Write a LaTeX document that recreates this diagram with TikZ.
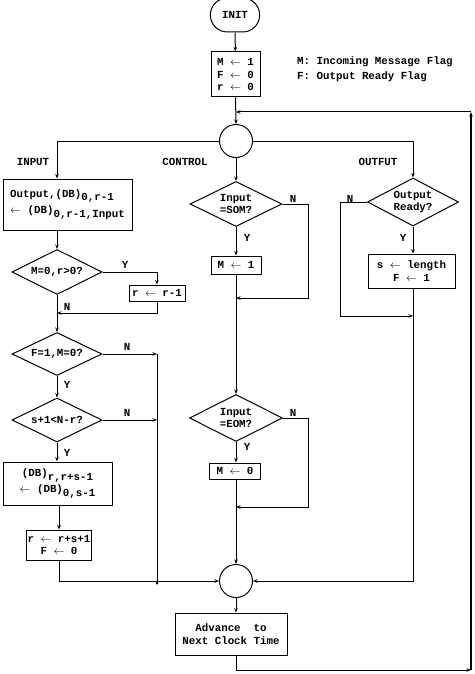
\documentclass[tikz,border=0pt]{standalone}
\usepackage{fontspec}
\setmainfont{Liberation Mono}
\usetikzlibrary{shapes.geometric,shapes.misc,arrows.meta}
\newcommand{\lo}[1]{\raisebox{-3.5pt}{#1}}
\newcommand{\la}{$\leftarrow$}
\begin{document}
\begin{tikzpicture}[x=1pt,y=-1pt,
  every node/.style={font=\fontsize{10.8}{12.5}\selectfont\bfseries},
  ln/.style={line width=1pt},
  arr/.style={ln,-{Stealth[length=4.5pt,width=3.5pt]}},
  box/.style={draw,line width=1pt,inner sep=1pt},
  dia/.style={draw,diamond,line width=1pt,inner sep=0pt,aspect=2,align=center},
  junc/.style={circle,draw,line width=1pt,minimum size=33,inner sep=0pt},
  term/.style={draw,rounded rectangle,line width=1pt,minimum width=56,minimum height=34},
  lbl/.style={inner sep=1pt}]
\useasboundingbox (0,0) rectangle (474,674);
% top
\node[term] (init) at (235,15) {INIT};
\node[box,align=left,minimum width=49,minimum height=45] (ib) at (235.5,74.5) {M \la{} 1\\F \la{} 0\\r \la{} 0};
\node[lbl,anchor=west] (n1) at (296,62) {M: Incoming Message Flag};
\node[lbl,anchor=west] (n2) at (296,77) {F: Output Ready Flag};
\node[junc] (c1) at (236,141) {};
\node[lbl] (tin) at (33,162) {INPUT};
\node[lbl] (tct) at (185,162) {CONTROL};
\node[lbl] (tout) at (378,162) {OUTFUT};
% input column
\node[box,align=left,minimum width=129,minimum height=51] (inb) at (67.5,204.5) {Output,(DB)\lo{0,r-1}\\[2pt] \la{} (DB)\lo{0,r-1,Input}};
\node[dia,minimum width=90,minimum height=45] (d1) at (57,272) {M=0,r>0?};
\node[box,minimum width=56,minimum height=16] (rb) at (157,293) {r \la{} r-1};
\coordinate (j1) at (57,313);
\node[dia,minimum width=90,minimum height=43] (d2) at (57,354) {F=1,M=0?};
\coordinate (n2r) at (157,354);
\node[dia,minimum width=90,minimum height=44] (d3) at (57,420) {s+1<N-r?};
\coordinate (n3r) at (157,420);
\node[box,align=center,minimum width=109,minimum height=43] (db) at (57.5,483.5) {(DB)\lo{r,r+s-1}\\[2pt] \la{} (DB)\lo{0,s-1}};
\node[box,align=center,minimum width=65,minimum height=30] (rs) at (59,545) {r \la{} r+s+1\\F \la{} 0};
\coordinate (jb) at (157,583);
% control column
\node[dia,minimum width=92,minimum height=45] (sd) at (236,204) {Input\\=SOM?};
\node[box,minimum width=50,minimum height=18] (sm) at (236,265) {M \la{} 1};
\coordinate (s1) at (308,204);
\coordinate (s2) at (236,298);
\node[dia,minimum width=93,minimum height=47] (ed) at (236,418) {Input\\=EOM?};
\node[box,minimum width=51,minimum height=16] (em) at (235,471) {M \la{} 0};
\coordinate (e1) at (308,418);
\coordinate (e2) at (236,507);
% output column
\node[dia,minimum width=91,minimum height=48] (od) at (413,202) {Output\\Ready?};
\node[box,align=center,minimum width=87,minimum height=34] (ob) at (411.5,271) {s \la{} length\\F \la{} 1};
\coordinate (o1) at (340,202);
\coordinate (o2) at (413,316);
% bottom
\node[junc] (c2) at (236,581) {};
\node[box,align=center,minimum width=112,minimum height=42] (adv) at (231,634) {Advance~~to\\Next Clock Time};
\coordinate (br) at (471,670);
\coordinate (tr) at (471,112);
\coordinate (tl) at (236,112);
% connectors
\draw[arr] (init) -- (ib);
\draw[arr] (ib.south) -- (c1.north);
\draw[arr] (c1.west) -| (d1.north |- inb.north);
\draw[arr] (c1.east) -| (od.north);
\draw[arr] (c1.south) -- (sd.north);
\draw[arr] (inb.south -| d1.north) -- (d1.north);
\draw[arr] (d1.east) -| (rb.north);
\draw[arr] (rb.south) |- (j1);
\draw[arr] (d1.south) -- (d2.north);
\draw[arr] (d2.east) -- (n2r);
\draw[ln] (n2r) -- (jb);
\draw[arr] (d2.south) -- (d3.north);
\draw[arr] (d3.east) -- (n3r);
\draw[arr] (d3.south) -- (d3.south |- db.north);
\draw[arr] (db.south -| rs.north) -- (rs.north);
\draw[arr] (rs.south) |- (c2.west);
\fill (jb) circle (1.5pt);
\draw[arr] (sd.south) -- (sm.north);
\draw[arr] (sd.east) -- (s1) -- (s1 |- s2) -- (s2);
\draw[arr] (sm.south) -- (ed.north);
\draw[arr] (ed.south) -- (ed.south |- em.north);
\draw[arr] (ed.east) -- (e1) -- (e1 |- e2) -- (e2);
\draw[arr] (em.south -| c2.north) -- (c2.north);
\draw[arr] (od.south) -- (od.south |- ob.north);
\draw[arr] (od.west) -- (o1) -- (o1 |- o2) -- (o2);
\draw[arr] (ob.south -| od.south) |- (c2.east);
\draw[arr] (c2.south) -- (c2.south |- adv.north);
\draw[arr] (adv.south -| c2.south) |- (br);
\draw[arr,line width=1.4pt] (br) -- (tr);
\draw[arr] (tr) -- (tl);
% branch labels
\node[lbl] (y1) at (125,265) {Y};
\node[lbl] (nn1) at (67,307) {N};
\node[lbl] (nn2) at (127,347) {N};
\node[lbl] (y2) at (67,385) {Y};
\node[lbl] (nn3) at (127,413) {N};
\node[lbl] (y3) at (67,453) {Y};
\node[lbl] (nn4) at (293,199) {N};
\node[lbl] (y4) at (247,238) {Y};
\node[lbl] (nn5) at (293,413) {N};
\node[lbl] (y5) at (247,447) {Y};
\node[lbl] (nn6) at (350,199) {N};
\node[lbl] (y6) at (403,238) {Y};
\end{tikzpicture}
\end{document}
